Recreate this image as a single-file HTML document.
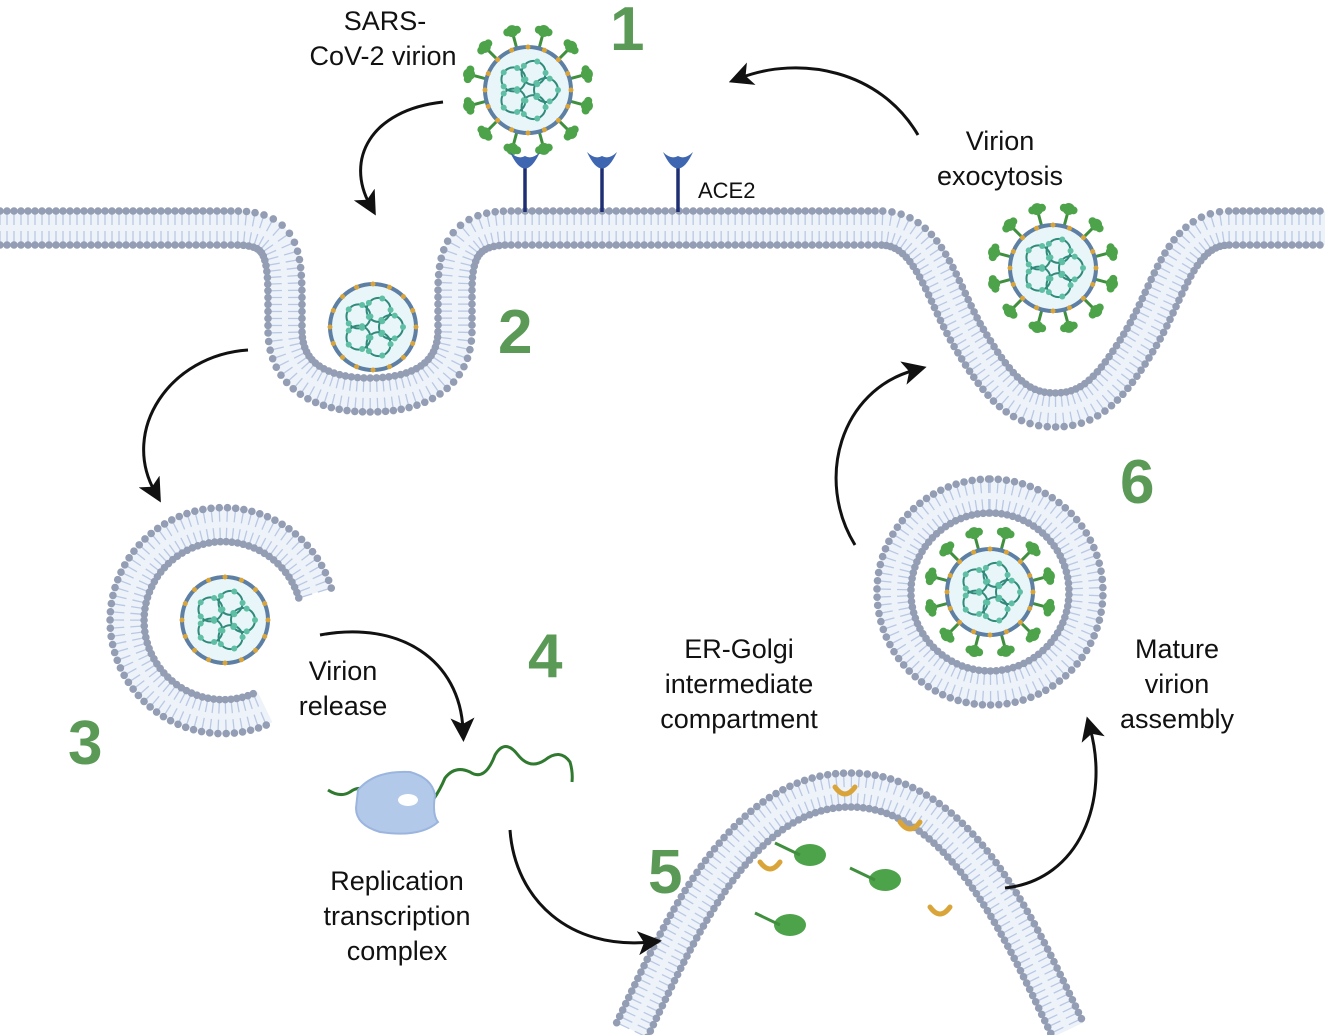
<!DOCTYPE html>
<html><head><meta charset="utf-8"><style>
html,body{margin:0;padding:0;background:#fff;}
svg{display:block}
text{font-family:"Liberation Sans",sans-serif;fill:#111}
.n{font-weight:bold;fill:#5a9a56;font-size:62px}
.t{font-size:27px}
</style></head><body>
<svg id="s" width="1325" height="1035" viewBox="0 0 1325 1035" xmlns="http://www.w3.org/2000/svg">
<defs>
<marker id="ah" markerWidth="8" markerHeight="8" refX="4" refY="4" orient="auto" markerUnits="strokeWidth">
<path d="M0,0 L8,4 L0,8 L2,4 Z" fill="#111"/></marker>
</defs>
<g id="mem"></g>
<g id="vir"></g>
<g fill="none" stroke="#111" stroke-width="3" marker-end="url(#ah)">
<path d="M443,102 C370,110 345,160 370,205"/>
<path d="M918,135 C880,70 800,55 740,78"/>
<path d="M248,350 C170,355 120,430 155,492"/>
<path d="M320,635 C400,620 460,660 463,730"/>
<path d="M510,830 C515,900 570,950 650,942"/>
<path d="M855,545 C815,480 840,390 915,370"/>
<path d="M1005,888 C1080,880 1110,800 1090,728"/>
</g>
<g stroke="#1f2f74" stroke-width="3.5" fill="#3f66b0">
<line x1="525" y1="162" x2="525" y2="212"/><path d="M510,152 Q525,185 540,152 Q532,160 525,156 Q518,160 510,152Z" stroke="none"/>
<line x1="602" y1="162" x2="602" y2="212"/><path d="M587,152 Q602,185 617,152 Q609,160 602,156 Q595,160 587,152Z" stroke="none"/>
<line x1="678" y1="162" x2="678" y2="212"/><path d="M663,152 Q678,185 693,152 Q685,160 678,156 Q671,160 663,152Z" stroke="none"/>
</g>
<path d="M328,790 Q340,798 350,792 Q358,786 365,790" fill="none" stroke="#2f7a2f" stroke-width="3"/>
<path d="M433,800 Q440,790 445,778 Q455,765 470,772 Q485,782 495,755 Q505,738 518,755 Q530,770 545,760 Q560,748 570,762 Q573,772 572,782" fill="none" stroke="#2f7a2f" stroke-width="3"/>
<path d="M358,790 Q375,770 410,772 Q432,778 435,795 Q432,815 438,822 Q420,838 380,832 Q356,825 356,808 Z" fill="#b3c9ea" stroke="#9bb5df" stroke-width="2"/>
<ellipse cx="408" cy="800" rx="10" ry="6" fill="#fff"/>
<g id="gp"></g>
<text class="t" x="385" y="30" text-anchor="middle">SARS-</text>
<text class="t" x="383" y="65" text-anchor="middle">CoV-2 virion</text>
<text x="698" y="198" font-size="22">ACE2</text>
<text class="t" x="1000" y="150" text-anchor="middle">Virion</text>
<text class="t" x="1000" y="185" text-anchor="middle">exocytosis</text>
<text class="t" x="343" y="680" text-anchor="middle">Virion</text>
<text class="t" x="343" y="715" text-anchor="middle">release</text>
<text class="t" x="397" y="890" text-anchor="middle">Replication</text>
<text class="t" x="397" y="925" text-anchor="middle">transcription</text>
<text class="t" x="397" y="960" text-anchor="middle">complex</text>
<text class="t" x="739" y="658" text-anchor="middle">ER-Golgi</text>
<text class="t" x="739" y="693" text-anchor="middle">intermediate</text>
<text class="t" x="739" y="728" text-anchor="middle">compartment</text>
<text class="t" x="1177" y="658" text-anchor="middle">Mature</text>
<text class="t" x="1177" y="693" text-anchor="middle">virion</text>
<text class="t" x="1177" y="728" text-anchor="middle">assembly</text>
<text class="n" x="610" y="50">1</text>
<text class="n" x="498" y="353">2</text>
<text class="n" x="68" y="764">3</text>
<text class="n" x="528" y="677">4</text>
<text class="n" x="648" y="893">5</text>
<text class="n" x="1120" y="503">6</text>
</svg>
<script>
var NS="http://www.w3.org/2000/svg";
function el(t,a,p){var e=document.createElementNS(NS,t);for(var k in a)e.setAttribute(k,a[k]);p.appendChild(e);return e;}
var mem=document.getElementById('mem');
var paths=[
"M0,228 L235,228 C280,228 285,250 285,300 L285,330 C285,375 320,395 370,395 C420,395 455,375 455,330 L455,290 C455,245 470,228 510,228 L880,228 C930,228 940,290 970,340 C1000,390 1020,410 1055,410 C1090,410 1110,390 1140,340 C1170,290 1180,228 1230,228 L1325,228",
"M315,593 A96,96 0 1 0 265,707",
"M990,496 A96,96 0 1 1 989.9,496",
"M632,1030 C680,930 740,790 850,790 C960,790 1020,930 1068,1030"
];
paths.forEach(function(d){
 var p=el('path',{d:d,fill:'none',stroke:'#eef3fa','stroke-width':34},mem);
 var L=p.getTotalLength(),step=7;
 for(var s=0;s<=L;s+=step){
  var a=p.getPointAtLength(s),b=p.getPointAtLength(Math.min(L,s+1)),c=p.getPointAtLength(Math.max(0,s-1));
  var dx=b.x-c.x,dy=b.y-c.y,m=Math.hypot(dx,dy)||1,nx=-dy/m,ny=dx/m;
  [1,-1].forEach(function(sg){
   el('line',{x1:a.x+sg*nx*3,y1:a.y+sg*ny*3,x2:a.x+sg*nx*14,y2:a.y+sg*ny*14,stroke:'#b9c8e4','stroke-width':1.3},mem);
   el('circle',{cx:a.x+sg*nx*17,cy:a.y+sg*ny*17,r:3.8,fill:'#939db3'},mem);
  });
 }
});
var vir=document.getElementById('vir');
function virion(cx,cy,sp){
 var g=el('g',{},vir);
 if(sp){for(var i=0;i<12;i++){var an=i*Math.PI/6+0.26;var x1=cx+Math.cos(an)*43,y1=cy+Math.sin(an)*43,x2=cx+Math.cos(an)*56,y2=cy+Math.sin(an)*56;
  el('line',{x1:x1,y1:y1,x2:x2,y2:y2,stroke:'#3f8f3f','stroke-width':3},g);
  var px=cx+Math.cos(an)*61,py=cy+Math.sin(an)*61;
  el('circle',{cx:px,cy:py,r:6,fill:'#4da34a'},g);
  var pa=an+Math.PI/2;
  el('circle',{cx:px+Math.cos(pa)*5,cy:py+Math.sin(pa)*5,r:4,fill:'#4da34a'},g);
  el('circle',{cx:px-Math.cos(pa)*5,cy:py-Math.sin(pa)*5,r:4,fill:'#4da34a'},g);}}
 el('circle',{cx:cx,cy:cy,r:43,fill:'#e8f5f9',stroke:'#5d7fa3','stroke-width':4},g);
 for(var i=0;i<16;i++){var an=i*Math.PI/8;el('circle',{cx:cx+Math.cos(an)*43,cy:cy+Math.sin(an)*43,r:2.5,fill:'#d9a53a'},g);}
 for(var k=0;k<5;k++){var an=k*Math.PI*2/5;var px=cx+Math.cos(an)*18,py=cy+Math.sin(an)*18;
  el('circle',{cx:px,cy:py,r:12,fill:'none',stroke:'#2f8a7a','stroke-width':2},g);
  for(var j=0;j<5;j++){var b=j*Math.PI*2/5+an;el('circle',{cx:px+Math.cos(b)*12,cy:py+Math.sin(b)*12,r:3,fill:'#5fbfa5'},g);}}
}
virion(528,90,true);virion(1053,268,true);virion(373,327,false);virion(225,620,false);virion(990,592,true);
var gp=document.getElementById('gp');
[[845,795],[910,830],[770,870],[940,915]].forEach(function(q){el('path',{d:'M'+(q[0]-10)+','+(q[1]-8)+' q10,14 20,0',fill:'none',stroke:'#d9a53a','stroke-width':5,'stroke-linecap':'round'},gp);});
[[810,855],[885,880],[790,925]].forEach(function(q){el('ellipse',{cx:q[0],cy:q[1],rx:16,ry:11,fill:'#4da34a'},gp);el('line',{x1:q[0]-35,y1:q[1]-12,x2:q[0]-10,y2:q[1],stroke:'#3f8f3f','stroke-width':3},gp);});
</script>
</body></html>
